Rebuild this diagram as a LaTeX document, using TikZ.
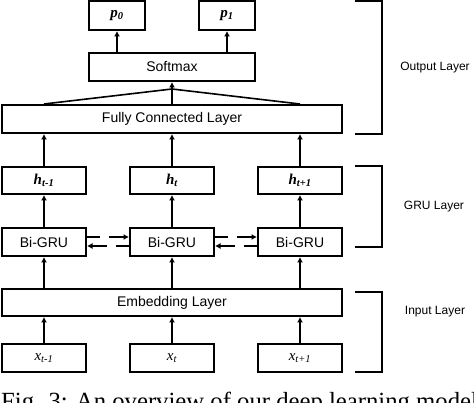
\documentclass[tikz,border=0pt]{standalone}
\usepackage{fontspec}
\setmainfont{Liberation Serif}
\setsansfont{Liberation Sans}
\usetikzlibrary{arrows.meta, positioning, calc}

\begin{document}
\begin{tikzpicture}[x=1pt,y=-1pt,
    box/.style={draw,line width=2pt,inner sep=0pt,minimum height=28pt,font=\sffamily\fontsize{14}{16}\selectfont},
    varbox/.style={box,minimum width=84pt,font=\itshape\fontsize{15}{17}\selectfont},
    arr/.style={line width=1.6pt,-{Latex[length=5.5pt,width=6pt]}},
    recur/.style={arr,dash pattern=on 13pt off 9pt on 22pt},
    brace/.style={line width=2pt},
    side/.style={font=\sffamily\fontsize{12}{14}\selectfont}]
  \clip (0,0) rectangle (474,403);
  % output layer
  \node[box,minimum width=56pt,minimum height=29pt,font=\bfseries\itshape\fontsize{15}{17}\selectfont] (p0) at (117,15.5) {p\textsubscript{0}};
  \node[box,minimum width=56pt,minimum height=29pt,font=\bfseries\itshape\fontsize{15}{17}\selectfont] (p1) at (227,15.5) {p\textsubscript{1}};
  \node[box,minimum width=166pt] (soft) at (172,67) {Softmax};
  \node[box,minimum width=340pt] (fc) at (172,119) {Fully Connected Layer};
  % gru layer
  \node[varbox,minimum height=27pt,font=\bfseries\itshape\fontsize{15}{17}\selectfont] (h1) at (44,180.5) {h\textsubscript{t-1}};
  \node[varbox,minimum height=27pt,font=\bfseries\itshape\fontsize{15}{17}\selectfont] (h2) at (172,180.5) {h\textsubscript{t}};
  \node[varbox,minimum height=27pt,font=\bfseries\itshape\fontsize{15}{17}\selectfont] (h3) at (300,180.5) {h\textsubscript{t+1}};
  \node[box,minimum width=84pt] (g1) at (44,242) {Bi-GRU};
  \node[box,minimum width=84pt] (g2) at (172,242) {Bi-GRU};
  \node[box,minimum width=84pt] (g3) at (300,242) {Bi-GRU};
  % input layer
  \node[box,minimum width=340pt,minimum height=27pt] (emb) at (172,302.5) {Embedding Layer};
  \node[varbox] (x1) at (44,358) {x\textsubscript{t-1}};
  \node[varbox] (x2) at (172,358) {x\textsubscript{t}};
  \node[varbox] (x3) at (300,358) {x\textsubscript{t+1}};
  % connections
  \draw[arr] (soft.north -| p0.south) -- (p0.south);
  \draw[arr] (soft.north -| p1.south) -- (p1.south);
  \draw[arr] (fc.north) -- (soft.south);
  \coordinate (join) at (172,89);
  \draw[line width=1.6pt] (fc.north -| h1.north) -- (join) -- (fc.north -| h3.north);
  \foreach \i in {1,2,3}{
    \draw[arr] (h\i.north) -- (h\i.north |- fc.south);
    \draw[arr] (g\i.north) -- (h\i.south);
    \draw[arr] (emb.north -| g\i.south) -- (g\i.south);
    \draw[arr] (x\i.north) -- (x\i.north |- emb.south);
  }
  % bidirectional links
  \draw[recur] ($(g1.east)+(0,-5)$) -- ($(g2.west)+(0,-5)$);
  \draw[recur] ($(g2.west)+(0,4)$) -- ($(g1.east)+(0,4)$);
  \draw[recur] ($(g2.east)+(0,-5)$) -- ($(g3.west)+(0,-5)$);
  \draw[recur] ($(g3.west)+(0,4)$) -- ($(g2.east)+(0,4)$);
  % brackets
  \draw[brace] (355,1) -- (382,1) -- (382,134) -- (355,134);
  \draw[brace] (355,166) -- (382,166) -- (382,247) -- (355,247);
  \draw[brace] (355,292) -- (382,292) -- (382,372) -- (355,372);
  \node[side] (outlbl) at (435,68) {Output Layer};
  \node[side] (grulbl) at (434,207) {GRU Layer};
  \node[side] (inlbl) at (435,312) {Input Layer};
  % caption
  \node[anchor=base west,inner sep=0pt,font=\fontsize{24.7}{28}\selectfont] (caption) at (1,409) {Fig. 3: An overview of our deep learning model};
\end{tikzpicture}
\end{document}
